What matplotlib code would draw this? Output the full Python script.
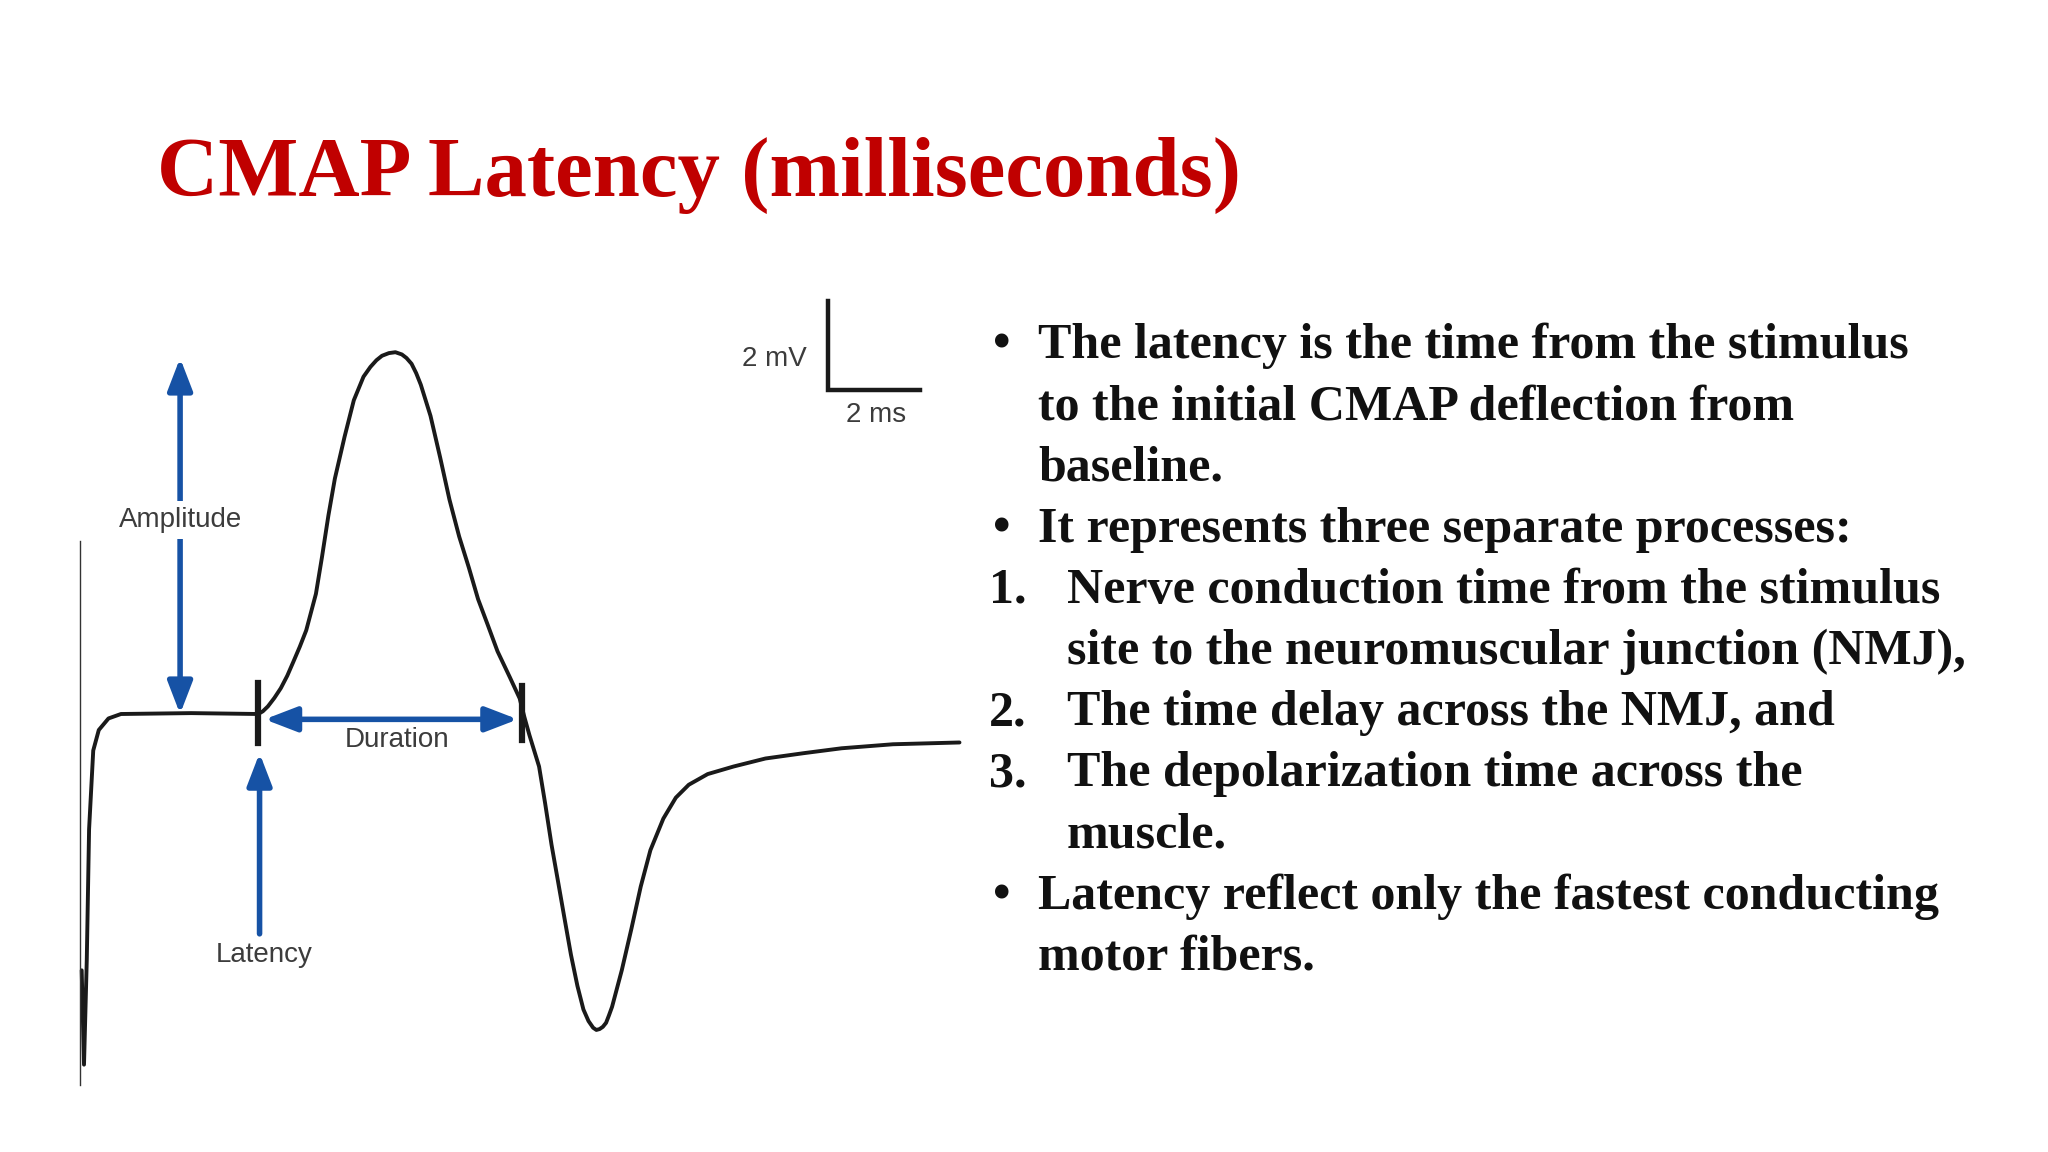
import matplotlib
matplotlib.use("Agg")
import matplotlib.pyplot as plt
import numpy as np

# CMAP trace, time in ms from the stimulus, voltage in mV from baseline
trace_t = [-0.05, 0.0, 0.06, 0.11, 0.20, 0.32, 0.53, 0.80, 2.32, 3.77,
           3.87, 3.98, 4.12, 4.26, 4.40, 4.53, 4.67, 4.81, 5.02, 5.15,
           5.29, 5.43, 5.64, 5.84, 6.05, 6.20, 6.33, 6.45, 6.60, 6.74,
           6.88, 6.98, 7.09, 7.19, 7.29, 7.50, 7.71, 7.91, 8.12, 8.33,
           8.53, 8.74, 8.95, 9.22, 9.43, 9.53, 9.64, 9.85, 9.98, 10.12,
           10.26, 10.40, 10.54, 10.68, 10.81, 10.92, 11.02, 11.09, 11.16, 11.23,
           11.30, 11.36, 11.43, 11.64, 11.85, 12.05, 12.26, 12.54, 12.81, 13.09,
           13.50, 14.06, 14.75, 15.58, 16.40, 17.51, 18.95]
trace_v = [-5.76, -7.88, -5.53, -2.59, -0.82, -0.36, -0.10, 0.0, 0.02, 0.0,
           0.06, 0.17, 0.36, 0.58, 0.86, 1.17, 1.51, 1.88, 2.70, 3.52,
           4.46, 5.29, 6.23, 7.05, 7.58, 7.80, 7.95, 8.05, 8.11, 8.13,
           8.08, 8.00, 7.87, 7.66, 7.40, 6.70, 5.76, 4.82, 3.99, 3.29,
           2.58, 2.00, 1.41, 0.82, 0.35, -0.06, -0.47, -1.18, -2.0, -2.94,
           -3.76, -4.59, -5.41, -6.11, -6.64, -6.90, -7.05, -7.10, -7.08, -7.03,
           -6.94, -6.78, -6.58, -5.76, -4.82, -3.88, -3.06, -2.35, -1.88, -1.59,
           -1.35, -1.18, -1.00, -0.88, -0.77, -0.68, -0.64]

latency_ms = 3.77
duration_end_ms = 9.47
amplitude_mv = 8.0
scale_mv = 2
scale_ms = 2

title = "CMAP Latency (milliseconds)"
bullets = [
    ("•", "The latency is the time from the stimulus"),
    ("", "to the initial CMAP deflection from"),
    ("", "baseline."),
    ("•", "It represents three separate processes:"),
    ("1.", "Nerve conduction time from the stimulus"),
    ("", "site to the neuromuscular junction (NMJ),"),
    ("2.", "The time delay across the NMJ, and"),
    ("3.", "The depolarization time across the"),
    ("", "muscle."),
    ("•", "Latency reflect only the fastest conducting"),
    ("", "motor fibers."),
]
numbered = [False, False, False, False, True, True, True, True, True, False, False]

W, H = 2048, 1152
fig = plt.figure(figsize=(W / 100, H / 100), dpi=100)
fig.patch.set_facecolor("white")

serif = ["Liberation Serif", "DejaVu Serif"]
sans = ["Liberation Sans", "DejaVu Sans"]
blue = "#1652a5"
grey = "#3c3c3c"

# title
fig.text(157 / W, 1 - 196 / H, title, family=serif, weight="bold",
         fontsize=61, color="#c00000", ha="left", va="baseline")

# bullet text
y0, dy = 358, 61.2
for i, (mark, line) in enumerate(bullets):
    y = 1 - (y0 + i * dy) / H
    if numbered[i]:
        mx, tx = 989, 1067
    else:
        mx, tx = 993, 1038
    if mark:
        fig.text(mx / W, y, mark, family=serif, weight="bold", fontsize=36,
                 color="#111111", ha="left", va="baseline")
    fig.text(tx / W, y, line, family=serif, weight="bold", fontsize=36,
             color="#111111", ha="left", va="baseline")

# trace axes: 46.2 px per ms, 44.5 px per mV, stimulus at (84, 714) px
px_ms, px_mv = 46.2, 44.5
ox, oy = 84, 714
xlim = (-1, 20)
ylim = (-9.5, 10)
left = ox + xlim[0] * px_ms
top = oy - ylim[1] * px_mv
ax = fig.add_axes([left / W, 1 - (top + (ylim[1] - ylim[0]) * px_mv) / H,
                   (xlim[1] - xlim[0]) * px_ms / W,
                   (ylim[1] - ylim[0]) * px_mv / H])
ax.set_xlim(*xlim)
ax.set_ylim(*ylim)
ax.axis("off")

ax.plot(trace_t, trace_v, color="#1a1a1a", lw=2.8, solid_joinstyle="round",
        solid_capstyle="round")
# thin stimulus marker line
ax.plot([-0.09, -0.09], [3.88, -8.34], color="#333333", lw=1.0)

# latency / duration ticks
ax.plot([latency_ms, latency_ms], [0.70, -0.65], color="#1a1a1a", lw=4.5)
ax.plot([duration_end_ms, duration_end_ms], [0.64, -0.59], color="#1a1a1a", lw=4.5)

arrow = dict(color=blue, lw=4.0, shrinkA=0, shrinkB=0, mutation_scale=30)
style2 = "<|-|>,head_length=0.65,head_width=0.25"
style1 = "-|>,head_length=0.65,head_width=0.25"
# amplitude
ax.annotate("", xy=(2.08, amplitude_mv), xytext=(2.08, 0.0),
            arrowprops=dict(arrowstyle=style2, **arrow))
ax.text(2.08, 4.36, "Amplitude", family=sans, fontsize=20, color=grey,
        ha="center", va="center",
        bbox=dict(facecolor="white", edgecolor="none", pad=4))
# duration
ax.annotate("", xy=(3.91, -0.12), xytext=(9.39, -0.12),
            arrowprops=dict(arrowstyle=style2, **arrow))
ax.text(6.77, -0.59, "Duration", family=sans, fontsize=20, color=grey,
        ha="center", va="center")
# latency
ax.annotate("", xy=(3.80, -0.88), xytext=(3.80, -4.94),
            arrowprops=dict(arrowstyle=style1, **arrow))
ax.text(3.91, -5.41, "Latency", family=sans, fontsize=20, color=grey,
        ha="center", va="center")

# scale bar
sx, sy = 16.10, 7.29
ax.plot([sx, sx, sx + scale_ms], [sy + scale_mv, sy, sy], color="#1a1a1a", lw=3.2,
        solid_joinstyle="miter", clip_on=False)
ax.text(sx - 0.45, sy + 0.68, f"{scale_mv} mV", family=sans, fontsize=20,
        color=grey, ha="right", va="center")
ax.text(sx + 1.05, sy - 0.57, f"{scale_ms} ms", family=sans, fontsize=20,
        color=grey, ha="center", va="center")

fig.savefig("out.png", dpi=100, facecolor="white")
